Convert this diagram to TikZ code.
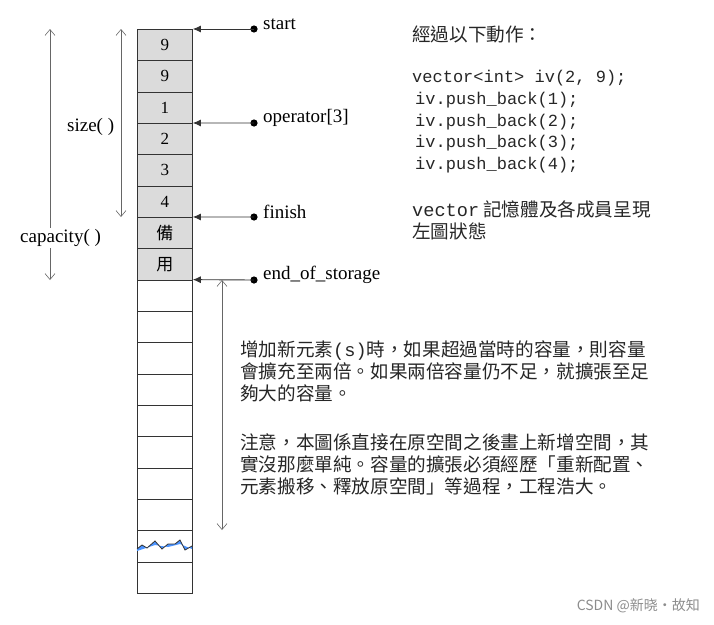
\documentclass[tikz,border=0pt]{standalone}
\usepackage{fontspec}
\usetikzlibrary{arrows.meta}
\setmainfont{Liberation Serif}
\setmonofont{Liberation Mono}
\newfontfamily\cjk{Noto Sans CJK TC}[Scale=1]
\begin{document}
\begin{tikzpicture}[x=1pt,y=-1pt,
  cell/.style={draw=black!80,line width=0.8pt,minimum width=55pt,minimum height=31.33pt,inner sep=0pt,anchor=north west,font=\fontsize{17}{17}\selectfont},
  full/.style={cell,fill=black!14},
  ptr/.style={draw=black!80,line width=0.9pt,-{Latex[length=8pt,width=7pt]}},
  dim/.style={draw=black!60,line width=0.6pt,{Straight Barb[length=6pt,width=10pt]}-{Straight Barb[length=6pt,width=10pt]}},
  lbl/.style={anchor=west,inner sep=0pt,font=\fontsize{19}{19}\selectfont},
  code/.style={anchor=north west,inner sep=0pt,font=\fontsize{17}{21.8}\ttfamily\selectfont,align=left,text=black!85},
  para/.style={anchor=north west,inner sep=0pt,font=\fontsize{18.6}{22}\cjk\selectfont,align=left,text=black!85}]
\useasboundingbox (0,0) rectangle (714,624);
\foreach \t [count=\i from 0] in {9,9,1,2,3,4,{\cjk 備},{\cjk 用}}
  \node[full] (c\i) at (137,{29+31.33*\i}) {\t};
\foreach \i in {8,...,17}
  \node[cell] (c\i) at (137,{29+31.33*\i}) {};
% wave
\fill[blue!60!cyan!70] (137,549) -- (142,545) -- (147,548) -- (155,541) -- (162,549) -- (168,544) -- (175,544) -- (180,540) -- (185,550) -- (192,546) -- (192,549) -- (180,544) -- (168,547) -- (155,545) -- (137,551) -- cycle;
\draw[black!80,line width=0.8pt] (137,549) -- (142,545) -- (147,548) -- (155,541) -- (162,549) -- (168,544) -- (175,544) -- (180,540) -- (185,550) -- (192,546);
% pointers
\foreach \n/\y/\t/\c in {s/29/start/c0,o/123/{operator[3]}/c3,f/217/finish/c6,e/280/end\_of\_storage/c8}{
  \fill (254,\y) circle (3.6pt) coordinate (d\n);
  \node[lbl] (l\n) at (263,\y-5) {\t};
  \draw[ptr] (d\n) -- (\c.north east);
}
% dims
\coordinate (sa) at (121,29); \coordinate (sb) at (121,217);
\draw[dim] (sa) -- (sb);
\coordinate (ca) at (50,29); \coordinate (cb) at (50,280);
\draw[dim] (ca) -- (cb);
\coordinate (ga) at (222,280); \coordinate (gb) at (222,530);
\draw[dim] (ga) -- (gb);
\node[lbl,fill=white,inner sep=1pt] (sz) at (66,127) {size( )};
\node[lbl,fill=white,inner sep=1pt] (cp) at (19,238) {capacity( )};
% right text
\node[para] (h) at (412,26) {經過以下動作：};
\node[code] (cd) at (412,70) {vector<int> iv(2, 9);\\\hspace*{3pt}iv.push\_back(1);\\\hspace*{3pt}iv.push\_back(2);\\\hspace*{3pt}iv.push\_back(3);\\\hspace*{3pt}iv.push\_back(4);};
\node[para] (st) at (412,201) {{\ttfamily vector} 記憶體及各成員呈現\\左圖狀態};
\node[para] (p1) at (240,341) {增加新元素{\ttfamily (s)}時，如果超過當時的容量，則容量\\會擴充至兩倍。如果兩倍容量仍不足，就擴張至足\\夠大的容量。};
\node[para] (p2) at (240,433) {注意，本圖係直接在原空間之後畫上新增空間，其\\實沒那麼單純。容量的擴張必須經歷「重新配置、\\元素搬移、釋放原空間」等過程，工程浩大。};
\node[anchor=east,inner sep=0pt,text=black!45,font=\fontsize{14}{14}\cjk\selectfont] (wm) at (700,606) {CSDN @新晓·故知};
\end{tikzpicture}
\end{document}
